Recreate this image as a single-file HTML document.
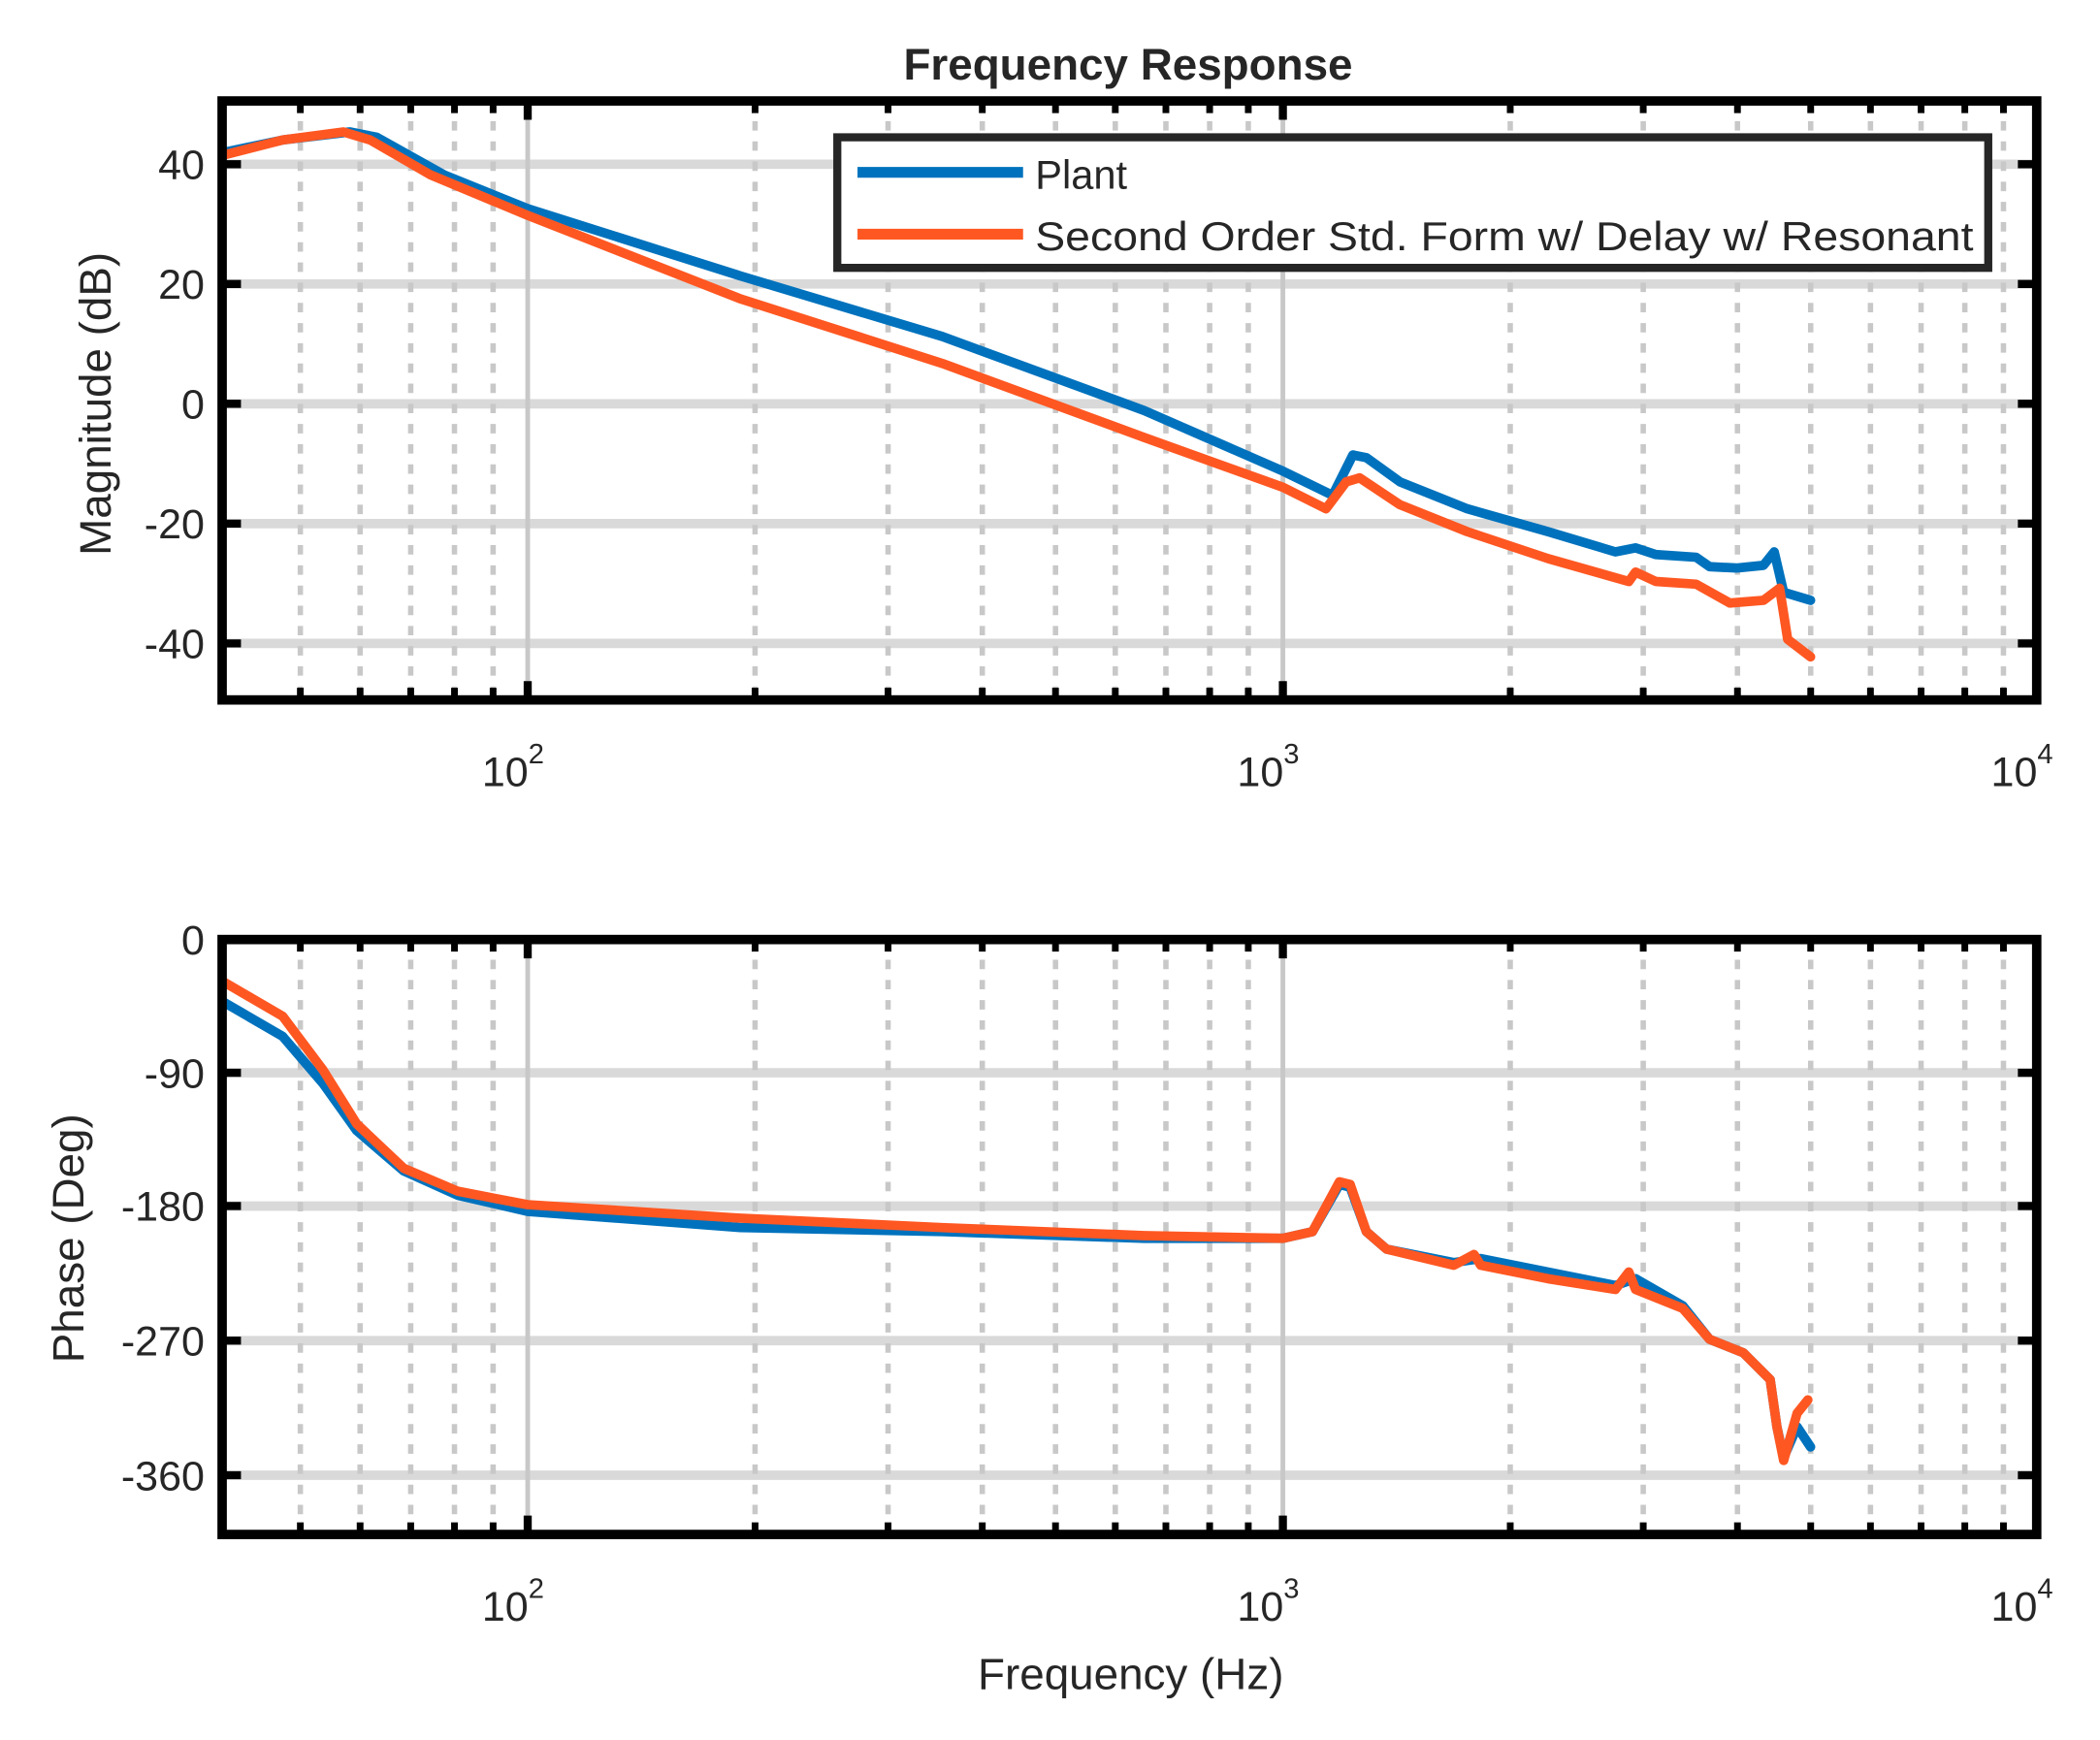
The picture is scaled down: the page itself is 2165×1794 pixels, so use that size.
<!DOCTYPE html>
<html><head><meta charset="utf-8"><style>html,body{margin:0;padding:0;background:#fff}svg{display:block}text{font-family:"Liberation Sans",sans-serif;fill:#262626}</style></head>
<body>
<svg width="2165" height="1794" viewBox="0 0 1560 1292.7" xmlns="http://www.w3.org/2000/svg">
<rect width="1560" height="1293" fill="#fff"/>
<path d="M165 122H1513M165 211H1513M165 300H1513M165 389H1513M165 478H1513M165 797H1513M165 896H1513M165 996H1513M165 1096H1513" stroke="#d9d9d9" stroke-width="7" fill="none"/>
<path d="M392 75V520M953 75V520M392 698V1140M953 698V1140" stroke="#c8c8c8" stroke-width="3.5" fill="none"/>
<path d="M223.1 75V520M267.5 75V520M305.1 75V520M337.6 75V520M366.3 75V520M560.9 75V520M659.7 75V520M729.7 75V520M784.1 75V520M828.5 75V520M866.1 75V520M898.6 75V520M927.3 75V520M1121.9 75V520M1220.7 75V520M1290.7 75V520M1345.1 75V520M1389.5 75V520M1427.1 75V520M1459.6 75V520M1488.3 75V520
M223.1 698V1140M267.5 698V1140M305.1 698V1140M337.6 698V1140M366.3 698V1140M560.9 698V1140M659.7 698V1140M729.7 698V1140M784.1 698V1140M828.5 698V1140M866.1 698V1140M898.6 698V1140M927.3 698V1140M1121.9 698V1140M1220.7 698V1140M1290.7 698V1140M1345.1 698V1140M1389.5 698V1140M1427.1 698V1140M1459.6 698V1140M1488.3 698V1140" stroke="#c8c8c8" stroke-width="4" stroke-dasharray="7,8" fill="none"/>
<g fill="none" stroke-width="7" stroke-linejoin="round" stroke-linecap="round">
<polyline stroke="#0072BD" points="167,113 210,104 260,98 280,102 330,130 392,155 550,205 700,250 850,305 953,350 990,368 1005,338 1015,340 1040,358 1090,378 1150,395 1200,410 1215,407 1230,412 1260,414 1270,421 1290,422 1310,420 1318,410 1325,440 1345,446"/>
<polyline stroke="#FF5722" points="167,115 210,104 255,98 275,104 320,130 392,160 550,222 700,270 850,325 953,362 985,378 1000,358 1010,355 1040,375 1090,395 1150,415 1210,432 1215,425 1230,432 1260,434 1285,448 1310,446 1322,437 1328,475 1345,488"/>
<polyline stroke="#0072BD" points="167,745 210,770 240,805 265,840 300,870 340,888 392,900 550,912 700,915 850,920 953,920 975,915 995,880 1003,882 1015,915 1030,928 1080,938 1100,935 1150,945 1200,955 1215,950 1250,970 1270,995 1295,1005 1315,1025 1320,1060 1325,1083 1335,1060 1345,1075"/>
<polyline stroke="#FF5722" points="167,730 210,755 240,795 265,835 300,868 340,885 392,895 550,905 700,912 850,918 953,920 975,915 995,878 1003,880 1015,915 1030,928 1080,940 1095,932 1100,940 1150,950 1200,958 1210,945 1215,958 1250,972 1270,995 1295,1005 1315,1025 1320,1060 1325,1085 1335,1050 1343,1040"/>
</g>
<path d="M165 122h14M165 211h14M165 300h14M165 389h14M165 478h14M1513 122h-14M1513 211h-14M1513 300h-14M1513 389h-14M1513 478h-14
M165 797h14M165 896h14M165 996h14M165 1096h14M1513 797h-14M1513 896h-14M1513 996h-14M1513 1096h-14
M392 75v14M953 75v14M392 520v-14M953 520v-14M392 698v14M953 698v14M392 1140v-14M953 1140v-14" stroke="#000" stroke-width="6" fill="none"/>
<path d="M223.1 75v9M267.5 75v9M305.1 75v9M337.6 75v9M366.3 75v9M560.9 75v9M659.7 75v9M729.7 75v9M784.1 75v9M828.5 75v9M866.1 75v9M898.6 75v9M927.3 75v9M1121.9 75v9M1220.7 75v9M1290.7 75v9M1345.1 75v9M1389.5 75v9M1427.1 75v9M1459.6 75v9M1488.3 75v9
M223.1 520v-9M267.5 520v-9M305.1 520v-9M337.6 520v-9M366.3 520v-9M560.9 520v-9M659.7 520v-9M729.7 520v-9M784.1 520v-9M828.5 520v-9M866.1 520v-9M898.6 520v-9M927.3 520v-9M1121.9 520v-9M1220.7 520v-9M1290.7 520v-9M1345.1 520v-9M1389.5 520v-9M1427.1 520v-9M1459.6 520v-9M1488.3 520v-9
M223.1 698v9M267.5 698v9M305.1 698v9M337.6 698v9M366.3 698v9M560.9 698v9M659.7 698v9M729.7 698v9M784.1 698v9M828.5 698v9M866.1 698v9M898.6 698v9M927.3 698v9M1121.9 698v9M1220.7 698v9M1290.7 698v9M1345.1 698v9M1389.5 698v9M1427.1 698v9M1459.6 698v9M1488.3 698v9
M223.1 1140v-9M267.5 1140v-9M305.1 1140v-9M337.6 1140v-9M366.3 1140v-9M560.9 1140v-9M659.7 1140v-9M729.7 1140v-9M784.1 1140v-9M828.5 1140v-9M866.1 1140v-9M898.6 1140v-9M927.3 1140v-9M1121.9 1140v-9M1220.7 1140v-9M1290.7 1140v-9M1345.1 1140v-9M1389.5 1140v-9M1427.1 1140v-9M1459.6 1140v-9M1488.3 1140v-9" stroke="#000" stroke-width="5" fill="none"/>
<rect x="165" y="75" width="1348" height="445" fill="none" stroke="#000" stroke-width="7"/>
<rect x="165" y="698" width="1348" height="442" fill="none" stroke="#000" stroke-width="7"/>
<rect x="622" y="102" width="855" height="97" fill="#fff" stroke="#262626" stroke-width="6"/>
<line x1="637" y1="128" x2="760" y2="128" stroke="#0072BD" stroke-width="8"/>
<line x1="637" y1="174" x2="760" y2="174" stroke="#FF5722" stroke-width="8"/>
<text x="769" y="140" font-size="30">Plant</text>
<text x="769" y="186" font-size="30" textLength="697" lengthAdjust="spacingAndGlyphs">Second Order Std. Form w/ Delay w/ Resonant</text>
<text x="838" y="59" font-size="33" font-weight="bold" text-anchor="middle" fill="#000">Frequency Response</text>
<g font-size="31" text-anchor="end">
<text x="152" y="133">40</text><text x="152" y="222">20</text><text x="152" y="311">0</text><text x="152" y="400">-20</text><text x="152" y="489">-40</text>
<text x="152" y="709">0</text><text x="152" y="808">-90</text><text x="152" y="907">-180</text><text x="152" y="1007">-270</text><text x="152" y="1107">-360</text>
</g>
<g font-size="31">
<text x="358" y="584">10<tspan font-size="21" dy="-17">2</tspan></text>
<text x="919" y="584">10<tspan font-size="21" dy="-17">3</tspan></text>
<text x="1479" y="584">10<tspan font-size="21" dy="-17">4</tspan></text>
<text x="358" y="1204">10<tspan font-size="21" dy="-17">2</tspan></text>
<text x="919" y="1204">10<tspan font-size="21" dy="-17">3</tspan></text>
<text x="1479" y="1204">10<tspan font-size="21" dy="-17">4</tspan></text>
</g>
<text transform="translate(82,300) rotate(-90)" font-size="33" text-anchor="middle">Magnitude (dB)</text>
<text transform="translate(62,920) rotate(-90)" font-size="33" text-anchor="middle">Phase (Deg)</text>
<text x="840" y="1255" font-size="33" text-anchor="middle">Frequency (Hz)</text>
</svg>
</body></html>
